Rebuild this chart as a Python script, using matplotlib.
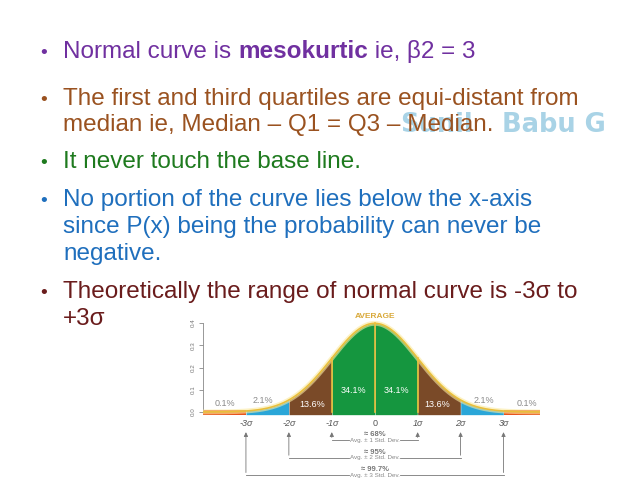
import numpy as np
import matplotlib.pyplot as plt

W, H = 638, 478

# slide text: one entry per visual line -> (bullet?, colour, [(text, weight), ...])
purple = '#7030a0'
brown = '#9a5220'
green = '#1e7a1e'
blue = '#1f6fbd'
maroon = '#6a1c1c'

slide_lines = [
    (True, purple, [('Normal curve is ', 'normal'), ('mesokurtic', 'bold'), (' ie, β2 = 3', 'normal')]),
    (True, brown, [('The first and third quartiles are equi-distant from', 'normal')]),
    (False, brown, [('median ie, Median – Q1 = Q3 – Median.', 'normal')]),
    (True, green, [('It never touch the base line.', 'normal')]),
    (True, blue, [('No portion of the curve lies below the x-axis', 'normal')]),
    (False, blue, [('since P(x) being the probability can never be', 'normal')]),
    (False, blue, [('negative.', 'normal')]),
    (True, maroon, [('Theoretically the range of normal curve is -3σ to', 'normal')]),
    (False, maroon, [('+3σ', 'normal')]),
]
line_baselines = [58, 105, 131, 168, 206, 233, 260, 298, 325]

# inset chart
sigma_ticks = [-3, -2, -1, 0, 1, 2, 3]
sigma_labels = ['-3σ', '-2σ', '-1σ', '0', '1σ', '2σ', '3σ']
region_edges = [-4.0, -3, -2, -1, 0, 1, 2, 3, 3.85]
region_pcts = ['0.1%', '2.1%', '13.6%', '34.1%', '34.1%', '13.6%', '2.1%', '0.1%']
region_label_x = [-3.5, -2.6, -1.45, -0.5, 0.5, 1.45, 2.55, 3.55]
region_label_y = [0.02, 0.03, 0.012, 0.075, 0.075, 0.012, 0.03, 0.02]
rule_pcts = ['≈ 68%', '≈ 95%', '≈ 99.7%']
rule_labels = ['Avg. ± 1 Std. Dev.', 'Avg. ± 2 Std. Dev.', 'Avg. ± 3 Std. Dev.']
y_ticks = [0.0, 0.1, 0.2, 0.3, 0.4]

plt.rcParams['font.family'] = ['Liberation Sans', 'DejaVu Sans']

fig = plt.figure(figsize=(W / 100, H / 100), dpi=100)
fig.patch.set_facecolor('white')
renderer = fig.canvas.get_renderer()

fs = 17.5
# watermark sits behind the second bullet, as in the slide
wm = dict(color='#a9d3e6', fontsize=18.5, fontweight='bold', family='DejaVu Sans',
          va='baseline', zorder=0)
fig.text(400 / W, 1 - 132 / H, 'Sunil', **wm)
fig.text(502 / W, 1 - 132 / H, 'Babu G', **wm)

for (bullet, col, segs), yb in zip(slide_lines, line_baselines):
    yf = 1 - yb / H
    if bullet:
        fig.text(40 / W, yf, '•', color=col, fontsize=fs * 0.8, va='baseline', zorder=2)
    x = 63
    for txt, wt in segs:
        t = fig.text(x / W, yf, txt, color=col, fontsize=fs, fontweight=wt,
                     va='baseline', zorder=2)
        x += t.get_window_extent(renderer).width

# ---- normal curve picture ----
ax = fig.add_axes([203 / W, 0.0, 337 / W, 166 / H])
ax.set_xlim(-4.0, 3.85)
ax.set_ylim(-0.297, 0.45)
ax.patch.set_alpha(0)

xs = np.linspace(-4.0, 3.85, 800)
pdf = np.exp(-xs ** 2 / 2) / np.sqrt(2 * np.pi)

fills = ['#e8531d', '#2aa6d8', '#7a4a28', '#15963f', '#15963f', '#7a4a28', '#2aa6d8', '#e8531d']
for i in range(8):
    lo, hi = region_edges[i], region_edges[i + 1]
    m = (xs >= lo) & (xs <= hi)
    if i in (0, 7):
        ax.fill_between(xs[m], -0.012, 0.008, color=fills[i], lw=0, zorder=2)
    else:
        ax.fill_between(xs[m], -0.012, np.maximum(pdf[m], 0.008), color=fills[i], lw=0, zorder=2)

ax.plot(xs, pdf, color='#fbeaa0', lw=3.5, alpha=0.6, zorder=3)
ax.plot(xs, pdf, color='#e9bf3c', lw=1.2, zorder=4)
for b in (-1, 0, 1):
    ax.plot([b, b], [0, np.exp(-b ** 2 / 2) / np.sqrt(2 * np.pi)], color='#e9bf3c', lw=1.2, zorder=4)

ax.text(0, 0.412, 'AVERAGE', color='#d9a93a', fontsize=6, fontweight='bold',
        ha='center', va='bottom')
for xl, yl, p in zip(region_label_x, region_label_y, region_pcts):
    c = 'white' if abs(xl) < 2 else '#8a8a8a'
    ax.text(xl, yl, p, color=c, fontsize=6.5, ha='center', va='bottom', zorder=5)

for xt, lab in zip(sigma_ticks, sigma_labels):
    ax.text(xt, -0.05, lab, color='#555555', fontsize=6.5, ha='center', va='center',
            style='italic' if lab != '0' else 'normal')

rule_y = [-0.127, -0.207, -0.285]
for k, (rp, rl, ry) in enumerate(zip(rule_pcts, rule_labels, rule_y)):
    s = k + 1
    for side in (-s, s):
        ax.annotate('', xy=(side, -0.078), xytext=(side, ry),
                    arrowprops=dict(arrowstyle='-|>,head_width=0.12,head_length=0.25',
                                    color='#777777', lw=0.6))
    ax.plot([-s, -0.6], [ry, ry], color='#777777', lw=0.6)
    ax.plot([0.6, s], [ry, ry], color='#777777', lw=0.6)
    ax.text(0, ry + 0.01, rp, color='#777777', fontsize=5.5, fontweight='bold',
            ha='center', va='bottom')
    ax.text(0, ry, rl, color='#888888', fontsize=4.5, ha='center', va='center')

for sp in ('top', 'right', 'bottom'):
    ax.spines[sp].set_visible(False)
ax.spines['left'].set_bounds(0, 0.4)
ax.spines['left'].set_color('#888888')
ax.spines['left'].set_linewidth(0.6)
ax.set_xticks([])
ax.set_yticks(y_ticks)
ax.set_yticklabels([f'{v:.1f}' for v in y_ticks], rotation=90, va='center',
                   fontsize=4.5, color='#777777')
ax.tick_params(axis='y', length=3, width=0.6, color='#888888', pad=2)

fig.savefig('out.png', dpi=100)
